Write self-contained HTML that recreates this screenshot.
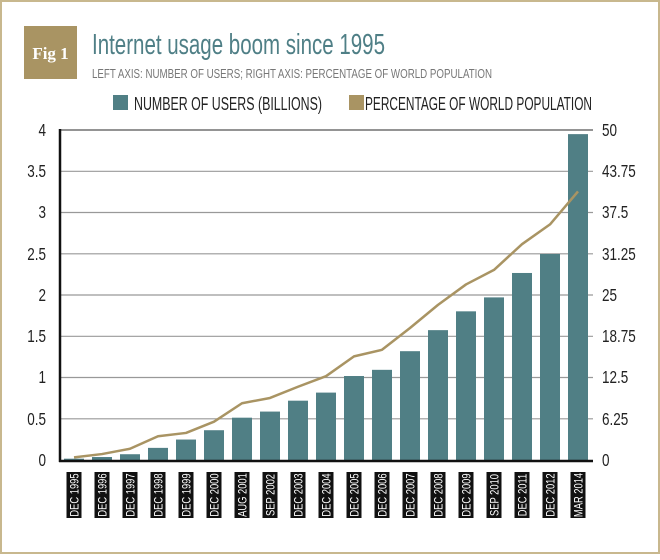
<!DOCTYPE html>
<html><head><meta charset="utf-8"><style>
body{margin:0;background:#fff}
svg text{font-family:"Liberation Sans Narrow","Liberation Sans",sans-serif}
</style></head><body>
<svg width="660" height="555" viewBox="0 0 660 555" xmlns="http://www.w3.org/2000/svg">
<rect x="1" y="1" width="658" height="552" fill="#fff" stroke="#c8b88e" stroke-width="2"/>
<rect x="24" y="26" width="53" height="53" fill="#a99463"/>
<text x="50.5" y="59" fill="#fff" font-size="17" font-weight="bold" text-anchor="middle" style="font-family:'Liberation Serif',serif">Fig 1</text>
<text x="92" y="54" fill="#4f7f86" font-size="29" textLength="293" lengthAdjust="spacingAndGlyphs">Internet usage boom since 1995</text>
<text x="92" y="78" fill="#777" font-size="13" textLength="400" lengthAdjust="spacingAndGlyphs">LEFT AXIS: NUMBER OF USERS; RIGHT AXIS: PERCENTAGE OF WORLD POPULATION</text>
<rect x="113" y="95" width="15" height="15" fill="#507f85"/>
<text x="134" y="110" fill="#222" font-size="18" textLength="188" lengthAdjust="spacingAndGlyphs">NUMBER OF USERS (BILLIONS)</text>
<rect x="349" y="95" width="15" height="15" fill="#a99463"/>
<text x="365" y="110" fill="#222" font-size="18" textLength="227" lengthAdjust="spacingAndGlyphs">PERCENTAGE OF WORLD POPULATION</text>
<g stroke="#999" stroke-width="1.2">
<line x1="60" y1="130" x2="593" y2="130" stroke="#555"/>
<line x1="60" y1="171.3" x2="593" y2="171.3"/><line x1="60" y1="212.5" x2="593" y2="212.5"/>
<line x1="60" y1="253.8" x2="593" y2="253.8"/><line x1="60" y1="295" x2="593" y2="295"/>
<line x1="60" y1="336.3" x2="593" y2="336.3"/><line x1="60" y1="377.5" x2="593" y2="377.5"/>
<line x1="60" y1="418.8" x2="593" y2="418.8"/>
</g>
<g font-size="18" fill="#222" text-anchor="end">
<text x="46" y="136" transform="translate(46 0) scale(.75 1) translate(-46 0)">4</text>
<text x="46" y="177" transform="translate(46 0) scale(.75 1) translate(-46 0)">3.5</text>
<text x="46" y="218" transform="translate(46 0) scale(.75 1) translate(-46 0)">3</text>
<text x="46" y="260" transform="translate(46 0) scale(.75 1) translate(-46 0)">2.5</text>
<text x="46" y="301" transform="translate(46 0) scale(.75 1) translate(-46 0)">2</text>
<text x="46" y="342" transform="translate(46 0) scale(.75 1) translate(-46 0)">1.5</text>
<text x="46" y="383" transform="translate(46 0) scale(.75 1) translate(-46 0)">1</text>
<text x="46" y="425" transform="translate(46 0) scale(.75 1) translate(-46 0)">0.5</text>
<text x="46" y="466" transform="translate(46 0) scale(.75 1) translate(-46 0)">0</text>
</g>
<g font-size="18" fill="#222">
<text x="602" y="136" transform="translate(602 0) scale(.75 1) translate(-602 0)">50</text>
<text x="602" y="177" transform="translate(602 0) scale(.75 1) translate(-602 0)">43.75</text>
<text x="602" y="218" transform="translate(602 0) scale(.75 1) translate(-602 0)">37.5</text>
<text x="602" y="260" transform="translate(602 0) scale(.75 1) translate(-602 0)">31.25</text>
<text x="602" y="301" transform="translate(602 0) scale(.75 1) translate(-602 0)">25</text>
<text x="602" y="342" transform="translate(602 0) scale(.75 1) translate(-602 0)">18.75</text>
<text x="602" y="383" transform="translate(602 0) scale(.75 1) translate(-602 0)">12.5</text>
<text x="602" y="425" transform="translate(602 0) scale(.75 1) translate(-602 0)">6.25</text>
<text x="602" y="466" transform="translate(602 0) scale(.75 1) translate(-602 0)">0</text>
</g>
<g id="barsg"></g>
<line x1="60" y1="129" x2="60" y2="462" stroke="#111" stroke-width="2.5"/>
<line x1="59" y1="461" x2="593" y2="461" stroke="#111" stroke-width="2.5"/>
<g id="labels"></g>
<polyline id="pl" fill="none" stroke="#a99463" stroke-width="2.5" stroke-linejoin="round"/>
</svg>
<script>
var users=[0.016,0.036,0.07,0.147,0.248,0.361,0.513,0.587,0.719,0.817,1.018,1.093,1.319,1.574,1.802,1.971,2.267,2.497,3.95];
var pct=[0.4,0.9,1.7,3.6,4.1,5.8,8.6,9.4,11.1,12.7,15.7,16.7,20.0,23.5,26.6,28.8,32.7,35.7,40.7];
var labs=["DEC 1995","DEC 1996","DEC 1997","DEC 1998","DEC 1999","DEC 2000","AUG 2001","SEP 2002","DEC 2003","DEC 2004","DEC 2005","DEC 2006","DEC 2007","DEC 2008","DEC 2009","SEP 2010","DEC 2011","DEC 2012","MAR 2014"];
var ns="http://www.w3.org/2000/svg",b=document.getElementById("barsg"),L=document.getElementById("labels"),pts=[];
for(var i=0;i<19;i++){var cx=60+28*(i+0.5);var h=users[i]*82.5;
var r=document.createElementNS(ns,"rect");r.setAttribute("x",cx-10);r.setAttribute("y",460-h);r.setAttribute("width",20);r.setAttribute("height",h);r.setAttribute("fill","#507f85");b.appendChild(r);
pts.push(cx+","+(460-pct[i]*6.6));
var bx=document.createElementNS(ns,"rect");bx.setAttribute("x",cx-7.5);bx.setAttribute("y",472);bx.setAttribute("width",15);bx.setAttribute("height",46);bx.setAttribute("fill","#111");L.appendChild(bx);
var t=document.createElementNS(ns,"text");t.setAttribute("fill","#fff");t.setAttribute("font-size","12");t.setAttribute("text-anchor","middle");
t.setAttribute("transform","translate("+(cx+4.5)+",495) rotate(-90) scale(0.78,1)");t.textContent=labs[i];L.appendChild(t);}
document.getElementById("pl").setAttribute("points",pts.join(" "));
</script>
</body></html>
